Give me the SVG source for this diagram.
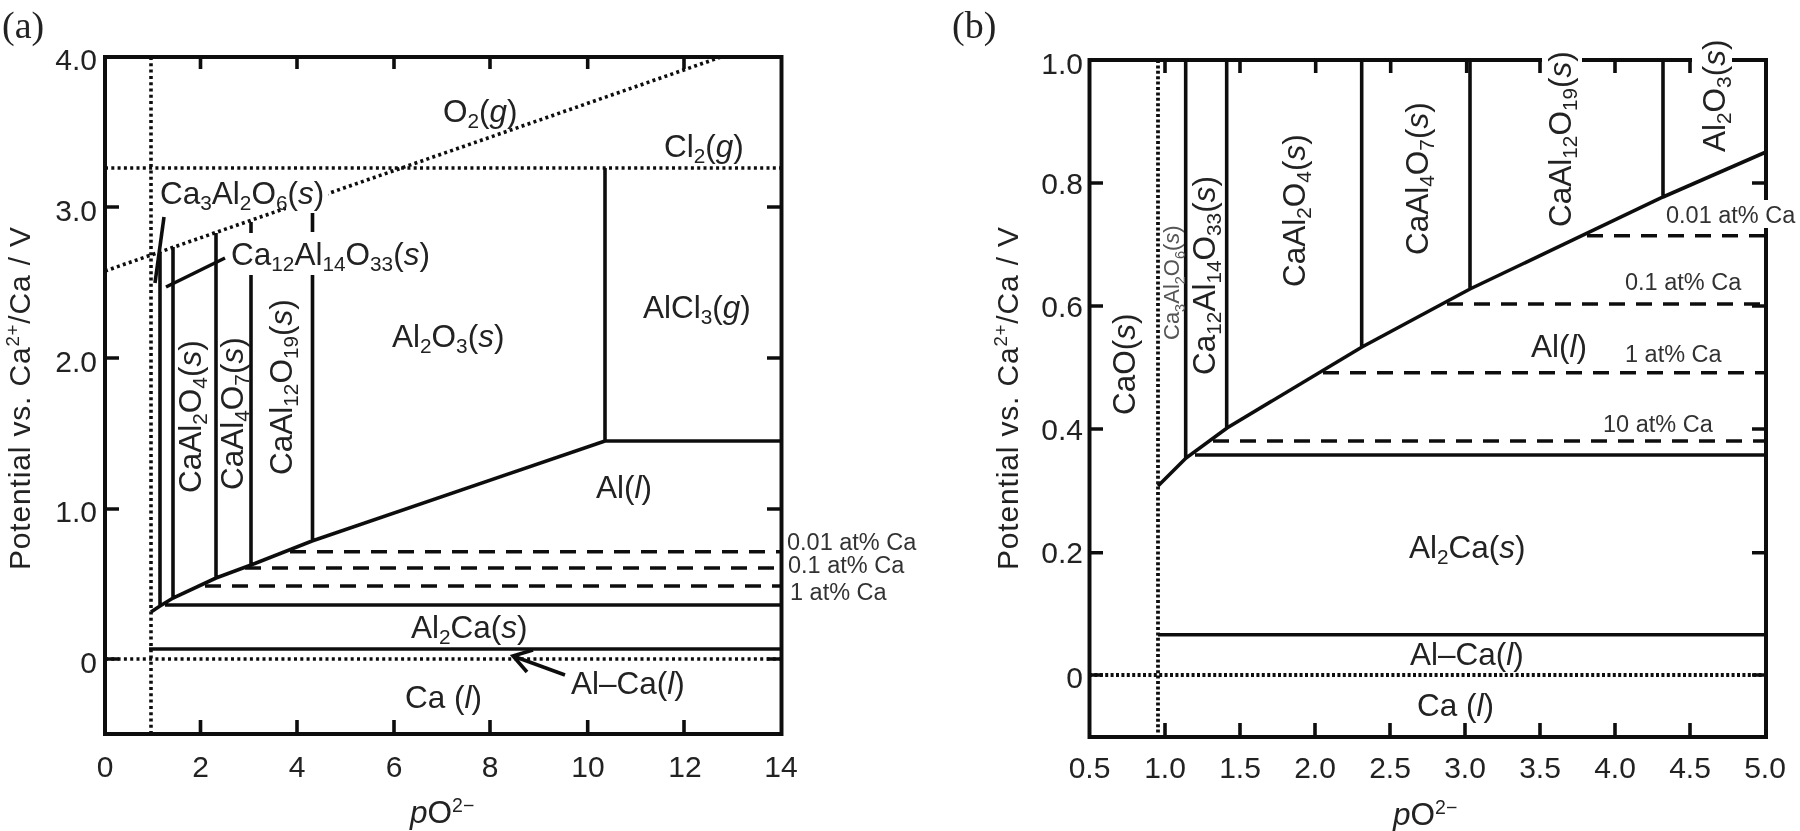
<svg xmlns="http://www.w3.org/2000/svg" width="1800" height="831" viewBox="0 0 1800 831">
<defs>
<filter id="soft" x="0" y="0" width="1" height="1" filterUnits="objectBoundingBox"><feGaussianBlur stdDeviation="0.7"/></filter>
</defs>
<style>
text{font-family:"Liberation Sans",Arial,sans-serif;font-size:31.5px;fill:#222}
.i{font-style:italic}
.s{font-size:66%;baseline-shift:-6px}
.u{font-size:62%;baseline-shift:11px}
.tick{font-size:30px}
.ax{font-size:30px}
.mid{text-anchor:middle}
.end{text-anchor:end}
.pc{font-size:23.5px;fill:#333}
.ser{font-family:"Liberation Serif","Times New Roman",serif;font-size:38px;fill:#222}
.tiny{font-size:22px;fill:#555}
.f{fill:none;stroke:#111;stroke-width:4}
.l{fill:none;stroke:#111;stroke-width:3.6}
.t{fill:none;stroke:#111;stroke-width:3.6}
.d{fill:none;stroke:#111;stroke-width:3.6;stroke-dasharray:16 11}
.o{fill:none;stroke:#111;stroke-width:3.6;stroke-dasharray:3 3.3}
.o2{fill:none;stroke:#111;stroke-width:3.8;stroke-dasharray:3 2.4}
.m{fill:#fff;stroke:none}
</style>
<rect width="1800" height="831" fill="#fff"/>
<g filter="url(#soft)">
<g id="panel-a-connectors">
<rect class="f" x="105" y="57" width="676.5" height="677"/>
<path class="t" d="M200.5 57v12M297 57v12M394 57v12M490 57v12M587.700 57v12M684 57v12M200.500 734v-14M297 734v-14M394 734v-14M490 734v-14M587.700 734v-14M684 734v-14M105 207h14M105 358h14M105 509h14M105 659h14M781 207h-14M781 358h-14M781 509h-14M781 659h-14"/>
<path class="o" d="M151 57V734M105 168H781M105 271L721 57M105 659H781"/>
<rect class="m" x="228" y="234" width="204" height="41"/>
<rect class="m" x="286" y="178" width="42" height="34"/>
<path class="l" d="M160 252V607M173 247V598M216 233V578M251 222V233M251 275V565M312.500 213V232M312.500 275V540M605 168V441M605 441H781M165 605H781M151 612L160 606L173 598L216 578L251 565L312 541L605 441"/>
<path class="t" d="M149 649H781"/>
<path class="d" d="M290 551.700H781M245 568H781M205 586H781"/>
<path class="l" d="M164 217L155 283M225 258L166 287M565 675L513 656M533 650L513 656L527 672"/>
</g>
<g id="panel-b-connectors">
<rect class="f" x="1089.500" y="60" width="676.500" height="677"/>
<path class="t" d="M1165 60v13M1240 60v13M1315.700 60v13M1390.700 60v13M1466.700 60v13M1540 60v13M1615 60v13M1690 60v13M1165 737v-14M1240 737v-14M1315 737v-14M1390 737v-14M1465 737v-14M1540 737v-14M1615 737v-14M1690 737v-14M1089 183h14M1089 306h14M1089 429h14M1089 552.700h14M1089 675h14M1766 183h-14M1766 306h-14M1766 429h-14M1766 552.700h-14M1766 675h-14"/>
<path class="o2" d="M1158 60V737M1089 675H1766"/>
<rect class="m" x="1542" y="48" width="40" height="24"/>
<rect class="m" x="1692" y="38" width="40" height="34"/>
<rect class="m" x="1760" y="200" width="12" height="28"/>
<path class="l" d="M1185.700 60V458M1226.700 60V428M1361.700 60V347M1470 60V289M1663 60V197M1158 486L1186 458L1227 428L1362 347L1470 289L1663 197L1766 152M1195 455H1766"/>
<path class="t" d="M1158 634.700H1766"/>
<path class="d" d="M1587 235.700H1764M1447 304H1764M1323 372.700H1764M1213 441H1764"/>
</g>
<g id="panel-a-labels">
<text class="ser" x="2" y="38">(a)</text>
<text class="tick end" x="97" y="70">4.0</text>
<text class="tick end" x="97" y="221">3.0</text>
<text class="tick end" x="97" y="372">2.0</text>
<text class="tick end" x="97" y="522">1.0</text>
<text class="tick end" x="97" y="673">0</text>
<text class="tick mid" x="105" y="777">0</text>
<text class="tick mid" x="200.500" y="777">2</text>
<text class="tick mid" x="297" y="777">4</text>
<text class="tick mid" x="394" y="777">6</text>
<text class="tick mid" x="490" y="777">8</text>
<text class="tick mid" x="588" y="777">10</text>
<text class="tick mid" x="685" y="777">12</text>
<text class="tick mid" x="781" y="777">14</text>
<text x="410" y="823"><tspan class="i">p</tspan>O<tspan class="u">2−</tspan></text>
<text class="ax" transform="translate(30,570) rotate(-90)" textLength="343">Potential vs. Ca<tspan class="u">2+</tspan>/Ca / V</text>
<text x="443" y="122">O<tspan class="s">2</tspan>(<tspan class="i">g</tspan>)</text>
<text x="664" y="157">Cl<tspan class="s">2</tspan>(<tspan class="i">g</tspan>)</text>
<text x="160" y="204">Ca<tspan class="s">3</tspan>Al<tspan class="s">2</tspan>O<tspan class="s">6</tspan>(<tspan class="i">s</tspan>)</text>
<text x="231" y="265">Ca<tspan class="s">12</tspan>Al<tspan class="s">14</tspan>O<tspan class="s">33</tspan>(<tspan class="i">s</tspan>)</text>
<text x="392" y="347">Al<tspan class="s">2</tspan>O<tspan class="s">3</tspan>(<tspan class="i">s</tspan>)</text>
<text x="643" y="318">AlCl<tspan class="s">3</tspan>(<tspan class="i">g</tspan>)</text>
<text x="596" y="498">Al(<tspan class="i">l</tspan>)</text>
<text x="411" y="638">Al<tspan class="s">2</tspan>Ca(<tspan class="i">s</tspan>)</text>
<text x="405" y="708">Ca (<tspan class="i">l</tspan>)</text>
<text x="571" y="694">Al–Ca(<tspan class="i">l</tspan>)</text>
<text class="pc" x="787" y="550">0.01 at% Ca</text>
<text class="pc" x="788" y="573">0.1 at% Ca</text>
<text class="pc" x="790" y="600">1 at% Ca</text>
<text transform="translate(201,493) rotate(-90)">CaAl<tspan class="s">2</tspan>O<tspan class="s">4</tspan>(<tspan class="i">s</tspan>)</text>
<text transform="translate(243,490) rotate(-90)">CaAl<tspan class="s">4</tspan>O<tspan class="s">7</tspan>(<tspan class="i">s</tspan>)</text>
<text transform="translate(292,475) rotate(-90)">CaAl<tspan class="s">12</tspan>O<tspan class="s">19</tspan>(<tspan class="i">s</tspan>)</text>
</g>
<g id="panel-b-labels">
<text class="ser" x="952" y="38">(b)</text>
<text class="tick end" x="1083" y="74">1.0</text>
<text class="tick end" x="1083" y="194">0.8</text>
<text class="tick end" x="1083" y="317">0.6</text>
<text class="tick end" x="1083" y="440">0.4</text>
<text class="tick end" x="1083" y="563">0.2</text>
<text class="tick end" x="1083" y="688">0</text>
<text class="tick mid" x="1089.500" y="778">0.5</text>
<text class="tick mid" x="1165" y="778">1.0</text>
<text class="tick mid" x="1240" y="778">1.5</text>
<text class="tick mid" x="1315" y="778">2.0</text>
<text class="tick mid" x="1390" y="778">2.5</text>
<text class="tick mid" x="1465" y="778">3.0</text>
<text class="tick mid" x="1540" y="778">3.5</text>
<text class="tick mid" x="1615" y="778">4.0</text>
<text class="tick mid" x="1690" y="778">4.5</text>
<text class="tick mid" x="1765" y="778">5.0</text>
<text x="1393" y="825"><tspan class="i">p</tspan>O<tspan class="u">2−</tspan></text>
<text class="ax" transform="translate(1018,570) rotate(-90)" textLength="343">Potential vs. Ca<tspan class="u">2+</tspan>/Ca / V</text>
<text transform="translate(1135,415) rotate(-90)">CaO(<tspan class="i">s</tspan>)</text>
<text class="tiny" transform="translate(1179,340) rotate(-90)">Ca<tspan class="s">3</tspan>Al<tspan class="s">2</tspan>O<tspan class="s">6</tspan>(<tspan class="i">s</tspan>)</text>
<text transform="translate(1215,375) rotate(-90)">Ca<tspan class="s">12</tspan>Al<tspan class="s">14</tspan>O<tspan class="s">33</tspan>(<tspan class="i">s</tspan>)</text>
<text transform="translate(1305,287) rotate(-90)">CaAl<tspan class="s">2</tspan>O<tspan class="s">4</tspan>(<tspan class="i">s</tspan>)</text>
<text transform="translate(1428,255) rotate(-90)">CaAl<tspan class="s">4</tspan>O<tspan class="s">7</tspan>(<tspan class="i">s</tspan>)</text>
<text transform="translate(1571,227) rotate(-90)">CaAl<tspan class="s">12</tspan>O<tspan class="s">19</tspan>(<tspan class="i">s</tspan>)</text>
<text transform="translate(1725,152) rotate(-90)">Al<tspan class="s">2</tspan>O<tspan class="s">3</tspan>(<tspan class="i">s</tspan>)</text>
<text class="pc" x="1666" y="223">0.01 at% Ca</text>
<text class="pc" x="1625" y="290">0.1 at% Ca</text>
<text class="pc" x="1625" y="362">1 at% Ca</text>
<text class="pc" x="1603" y="432">10 at% Ca</text>
<text x="1531" y="357">Al(<tspan class="i">l</tspan>)</text>
<text x="1409" y="558">Al<tspan class="s">2</tspan>Ca(<tspan class="i">s</tspan>)</text>
<text x="1410" y="665">Al–Ca(<tspan class="i">l</tspan>)</text>
<text x="1417" y="716">Ca (<tspan class="i">l</tspan>)</text>
</g>
</g>
</svg>
